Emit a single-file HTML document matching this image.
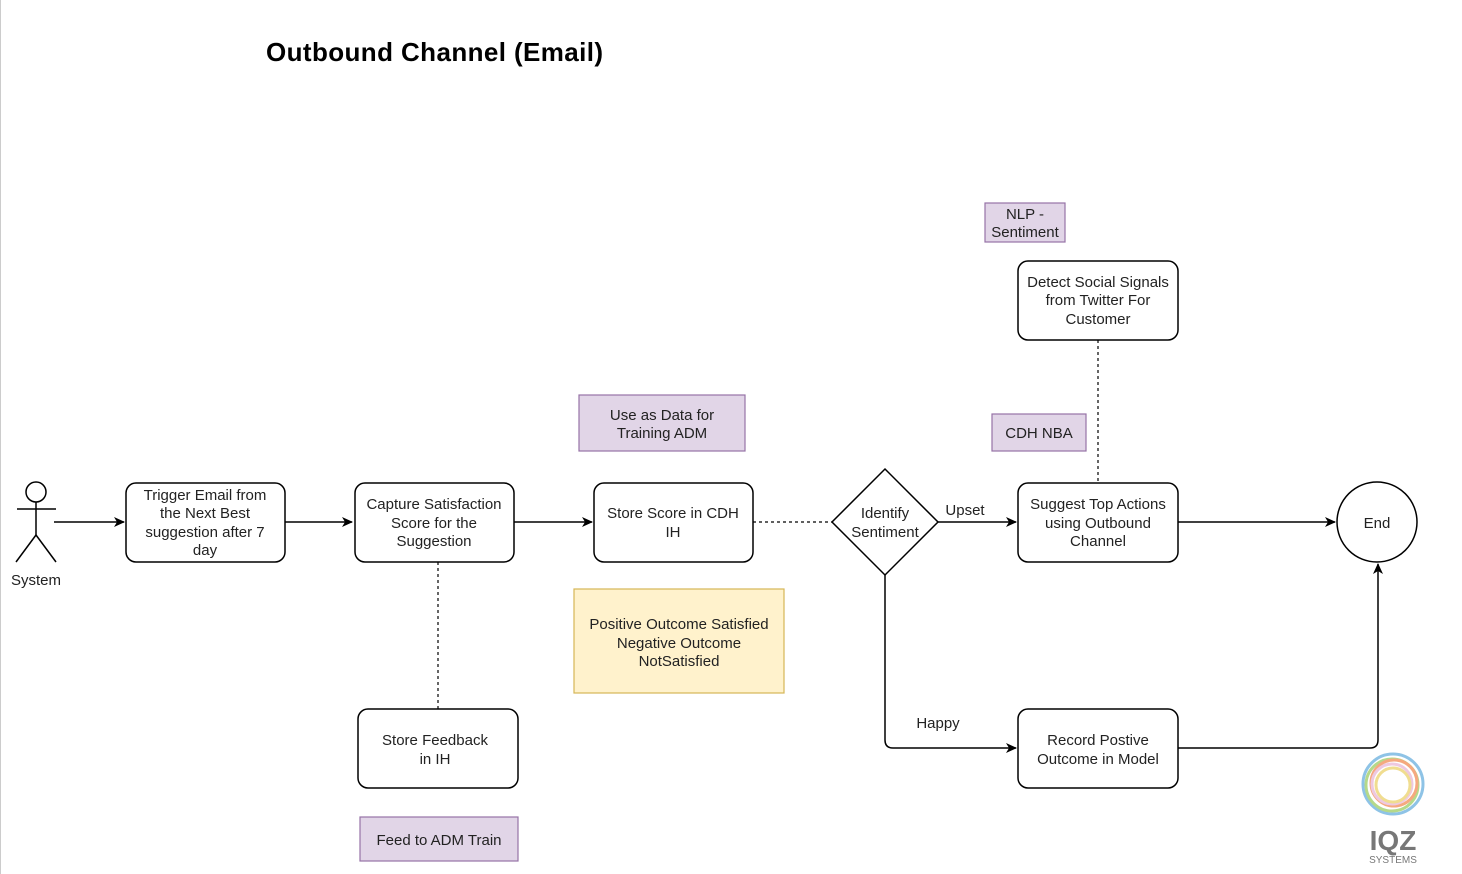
<!DOCTYPE html>
<html><head><style>body{margin:0;background:#fff}svg{display:block}text{font-family:"Liberation Sans",sans-serif;font-size:15px;fill:#222}</style></head><body>
<svg width="1462" height="874" viewBox="0 0 1462 874">
<defs><marker id="a" markerWidth="12" markerHeight="12" refX="10" refY="6" orient="auto" markerUnits="userSpaceOnUse"><path d="M0,1 L11,6 L0,11 L3,6z" fill="#000"/></marker></defs>
<line x1="0.5" y1="0" x2="0.5" y2="874" stroke="#ccc"/>
<text x="266" y="61" style="font-size:26px;font-weight:bold;fill:#000;letter-spacing:0.4px">Outbound Channel (Email)</text>
<g stroke="#000" stroke-width="1.5" fill="none">
<circle cx="36" cy="492" r="10"/><line x1="36" y1="502" x2="36" y2="535"/><line x1="17" y1="509" x2="56" y2="509"/><line x1="36" y1="535" x2="16" y2="562"/><line x1="36" y1="535" x2="56" y2="562"/>
<rect x="126" y="483" width="159" height="79" rx="10"/>
<rect x="355" y="483" width="159" height="79" rx="10"/>
<rect x="594" y="483" width="159" height="79" rx="10"/>
<rect x="1018" y="483" width="160" height="79" rx="10"/>
<rect x="1018" y="261" width="160" height="79" rx="10"/>
<rect x="1018" y="709" width="160" height="79" rx="10"/>
<rect x="358" y="709" width="160" height="79" rx="10"/>
<path d="M885,469 L938,522 L885,575 L832,522z"/>
<circle cx="1377" cy="522" r="40"/>
<line x1="54" y1="522" x2="124" y2="522" marker-end="url(#a)"/>
<line x1="285" y1="522" x2="352" y2="522" marker-end="url(#a)"/>
<line x1="514" y1="522" x2="592" y2="522" marker-end="url(#a)"/>
<line x1="938" y1="522" x2="1016" y2="522" marker-end="url(#a)"/>
<line x1="1178" y1="522" x2="1335" y2="522" marker-end="url(#a)"/>
<path d="M885,575 V740 Q885,748 893,748 H1016" marker-end="url(#a)"/>
<path d="M1178,748 H1370 Q1378,748 1378,740 V564" marker-end="url(#a)"/>
<g stroke-dasharray="3,3" stroke-width="1.2"><line x1="753" y1="522" x2="832" y2="522"/><line x1="1098" y1="340" x2="1098" y2="483"/><line x1="438" y1="562" x2="438" y2="709"/></g>
</g>
<g fill="#e1d5e7" stroke="#9673a6" stroke-width="1.2">
<rect x="985" y="203" width="80" height="39"/><rect x="579" y="395" width="166" height="56"/><rect x="992" y="414" width="94" height="37"/><rect x="360" y="817" width="158" height="44"/></g>
<rect x="574" y="589" width="210" height="104" fill="#fff2cc" stroke="#d6b656" stroke-width="1.2"/>
<g text-anchor="middle">
<text x="36" y="585">System</text>
<text x="205" y="500">Trigger Email from</text><text x="205" y="518">the Next Best</text><text x="205" y="537">suggestion after 7</text><text x="205" y="555">day</text>
<text x="434" y="509">Capture Satisfaction</text><text x="434" y="528">Score for the</text><text x="434" y="546">Suggestion</text>
<text x="673" y="518">Store Score in CDH</text><text x="673" y="537">IH</text>
<text x="885" y="518">Identify</text><text x="885" y="537">Sentiment</text>
<text x="1098" y="509">Suggest Top Actions</text><text x="1098" y="528">using Outbound</text><text x="1098" y="546">Channel</text>
<text x="1098" y="287">Detect Social Signals</text><text x="1098" y="305">from Twitter For</text><text x="1098" y="324">Customer</text>
<text x="1098" y="745">Record Postive</text><text x="1098" y="764">Outcome in Model</text>
<text x="435" y="745">Store Feedback</text><text x="435" y="764">in IH</text>
<text x="1377" y="528">End</text>
<text x="1025" y="219">NLP -</text><text x="1025" y="237">Sentiment</text>
<text x="662" y="420">Use as Data for</text><text x="662" y="438">Training ADM</text>
<text x="1039" y="438">CDH NBA</text>
<text x="439" y="845">Feed to ADM Train</text>
<text x="679" y="629">Positive Outcome Satisfied</text><text x="679" y="648">Negative Outcome</text><text x="679" y="666">NotSatisfied</text>
<text x="965" y="515">Upset</text><text x="938" y="728">Happy</text>
</g>
<g fill="none" stroke-width="3"><circle cx="1393" cy="784" r="30" stroke="#8ec3e6"/><circle cx="1392" cy="785" r="26" stroke="#b5d98a"/><circle cx="1394" cy="783" r="23" stroke="#f5a97f"/><circle cx="1392" cy="784" r="20" stroke="#eec9e0"/><circle cx="1393" cy="785" r="17" stroke="#f0dd90"/></g>
<text x="1393" y="850" text-anchor="middle" style="font-size:28px;font-weight:bold;fill:#777">IQZ</text>
<text x="1393" y="863" text-anchor="middle" style="font-size:10px;fill:#777">SYSTEMS</text>
</svg></body></html>
